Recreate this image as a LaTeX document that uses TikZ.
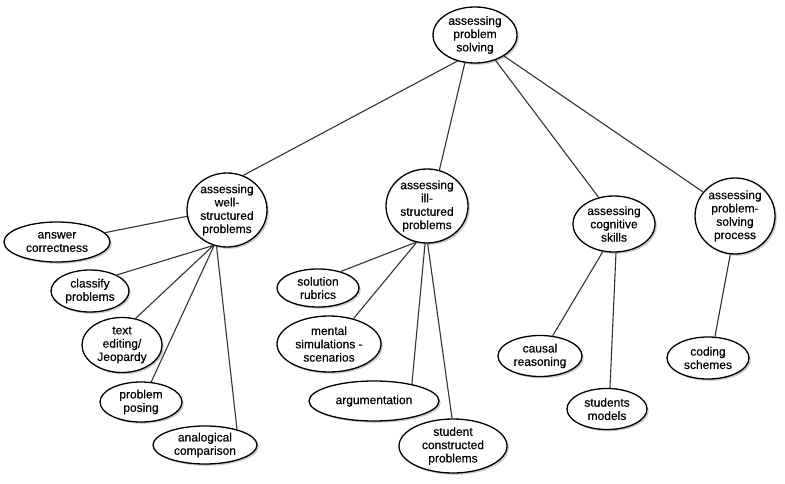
\documentclass[tikz,border=0pt]{standalone}
\usepackage{fontspec}
\setmainfont{Liberation Sans}[FakeBold=0.35]
\usetikzlibrary{shapes.geometric,shadows}
\begin{document}
\begin{tikzpicture}[x=1pt,y=-1pt,
  concept/.style={ellipse, draw=black, line width=1.3pt, fill=white, inner sep=0pt,
    align=center, font=\fontsize{12}{13.3}\selectfont,
    drop shadow={shadow xshift=1.8pt, shadow yshift=-1.8pt, fill=black!40}},
  link/.style={draw=black!80, line width=1.1pt}]
\fill[white] (0,0) rectangle (785,484);
\useasboundingbox (0,0) rectangle (785,484);

\node[concept, minimum width=84pt, minimum height=56pt] (root) at (475,35) {assessing\\problem\\solving};
\node[concept, minimum width=80pt, minimum height=74pt] (ws) at (227,210) {assessing\\well-\\structured\\problems};
\node[concept, minimum width=82pt, minimum height=74pt] (ill) at (427,206) {assessing\\ill-\\structured\\problems};
\node[concept, minimum width=82pt, minimum height=56pt] (cog) at (614,224) {assessing\\cognitive\\skills};
\node[concept, minimum width=80pt, minimum height=76pt] (proc) at (735,216) {assessing\\problem-\\solving\\process};

\node[concept, minimum width=106pt, minimum height=40pt] (ans) at (57,242) {answer\\correctness};
\node[concept, minimum width=78pt, minimum height=42pt] (cls) at (90,291) {classify\\problems};
\node[concept, minimum width=80pt, minimum height=55pt] (txt) at (122,345) {text\\editing/\\Jeopardy};
\node[concept, minimum width=82pt, minimum height=40pt] (pos) at (141,402) {problem\\posing};
\node[concept, minimum width=104pt, minimum height=38pt] (ana) at (205,445) {analogical\\comparison};

\node[concept, minimum width=82pt, minimum height=38pt] (rub) at (318,288) {solution\\rubrics};
\node[concept, minimum width=104pt, minimum height=56pt] (men) at (329,344) {mental\\simulations -\\scenarios};
\node[concept, minimum width=130pt, minimum height=40pt] (arg) at (374,401) {argumentation};
\node[concept, minimum width=108pt, minimum height=54pt] (stu) at (453,446) {student\\constructed\\problems};

\node[concept, minimum width=84pt, minimum height=41pt] (cau) at (540,356) {causal\\reasoning};
\node[concept, minimum width=80pt, minimum height=41pt] (smo) at (607,409) {students\\models};
\node[concept, minimum width=82pt, minimum height=42pt] (cod) at (708,358) {coding\\schemes};

\path[link] (root.236) -- (ws.65);
\path[link] (root.250) -- (ill.71);
\path[link] (root.309) -- (cog.120);
\path[link] (root.324) -- (proc.143);

\path[link] (ws.189) -- (ans.11);
\path[link] (ws.249) -- (cls.31);
\path[link] (ws.249) -- (txt.63);
\path[link] (ws.250) -- (pos.63);
\path[link] (ws.254) -- (ana.26);

\path[link] (ill.253) -- (rub.36);
\path[link] (ill.254) -- (men.46);
\path[link] (ill.267) -- (arg.24);
\path[link] (ill.271) -- (stu.92);

\path[link] (cog.248) -- (cau.58);
\path[link] (cog.274) -- (smo.82);
\path[link] (proc.263) -- (cod.72);
\end{tikzpicture}
\end{document}
